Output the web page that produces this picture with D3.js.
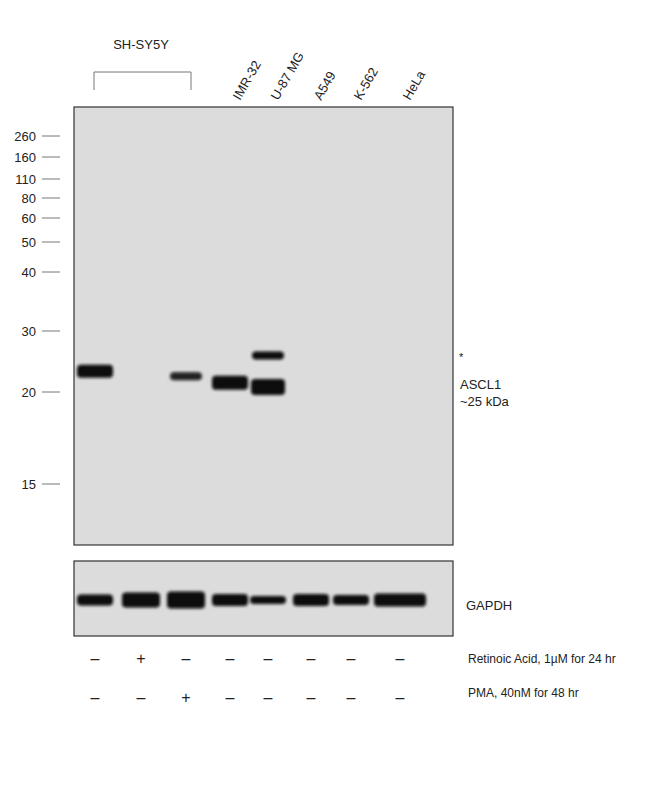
<!DOCTYPE html>
<html><head><meta charset="utf-8">
<script src="https://cdn.jsdelivr.net/npm/d3@7"></script>
<style>body{margin:0;background:#fff}svg text{font-family:Arial,"Liberation Sans",sans-serif;fill:#222}</style>
</head><body><svg id="c" width="650" height="797"></svg>
<script>
const lanes = ["SH-SY5Y a","SH-SY5Y b","SH-SY5Y c","IMR-32","U-87 MG","A549","K-562","HeLa"];
const laneLabels = ["","","","IMR-32","U-87 MG","A549","K-562","HeLa"];
const markers = [260,160,110,80,60,50,40,30,20,15];
const markerY = [136,157,179,198,218,242,272,331,392,484];
const asclBands = [
  {lane:0,kda:23.4,w:36,h:13,op:1},
  {lane:2,kda:22.6,w:32,h:8,op:0.9},
  {lane:3,kda:21.5,w:36,h:14,op:1},
  {lane:4,kda:26.0,w:32,h:8,op:1},
  {lane:4,kda:20.8,w:34,h:16,op:1}
];
const gapdh = [11,15,17,12,8,12,10,13]; // band thickness
const retinoic = ["-","+","-","-","-","-","-","-"];
const pma = ["-","-","+","-","-","-","-","-"];

const svg = d3.select("#c");
const laneX = d3.scaleOrdinal().domain(lanes).range([95,141,186,230,268,311,351,400]);
const y = d3.scaleLinear().domain(markers).range(markerY);

const defs = svg.append("defs");
defs.append("filter").attr("id","bl").append("feGaussianBlur").attr("stdDeviation",1.6);

svg.append("rect").attr("x",74).attr("y",107).attr("width",379).attr("height",438)
  .attr("fill","#dcdcdc").attr("stroke","#333").attr("stroke-width",1.2);
svg.append("rect").attr("x",74).attr("y",561).attr("width",379).attr("height",75)
  .attr("fill","#dcdcdc").attr("stroke","#333").attr("stroke-width",1.2);

markers.forEach(m=>{
  svg.append("line").attr("x1",42).attr("x2",60).attr("y1",y(m)).attr("y2",y(m)).attr("stroke","#777");
  svg.append("text").attr("x",36).attr("y",y(m)+5).attr("text-anchor","end").attr("font-size",13).text(m);
});

const bg = svg.append("g").attr("filter","url(#bl)");
asclBands.forEach(b=>{
  const cx = laneX(lanes[b.lane]), cy = y(b.kda);
  bg.append("rect").attr("x",cx-b.w/2).attr("y",cy-b.h/2).attr("width",b.w).attr("height",b.h)
    .attr("rx",4).attr("fill","#0a0a0a").attr("opacity",b.op);
});
lanes.forEach((l,i)=>{
  const w = i==7?52:(i==1||i==2?38:36);
  bg.append("rect").attr("x",laneX(l)-w/2).attr("y",600-gapdh[i]/2).attr("width",w).attr("height",gapdh[i])
    .attr("rx",4).attr("fill","#0a0a0a");
});

svg.append("text").attr("x",141).attr("y",49).attr("text-anchor","middle").attr("font-size",13).text("SH-SY5Y");
svg.append("path").attr("d","M94,90V72H191V90").attr("fill","none").attr("stroke","#777");
laneLabels.forEach((t,i)=>{
  if(!t) return;
  const cx = laneX(lanes[i]);
  svg.append("text").attr("transform",`translate(${cx+10},101) rotate(-60)`).attr("font-size",13).text(t);
});

svg.append("text").attr("x",459).attr("y",361).attr("font-size",11).text("*");
svg.append("text").attr("x",460).attr("y",389).attr("font-size",13).text("ASCL1");
svg.append("text").attr("x",460).attr("y",406).attr("font-size",13).text("~25 kDa");
svg.append("text").attr("x",466).attr("y",610).attr("font-size",13).text("GAPDH");

lanes.forEach((l,i)=>{
  svg.append("text").attr("x",laneX(l)).attr("y",664).attr("text-anchor","middle").attr("font-size",16).text(retinoic[i]=="-"?"–":"+");
  svg.append("text").attr("x",laneX(l)).attr("y",703).attr("text-anchor","middle").attr("font-size",16).text(pma[i]=="-"?"–":"+");
});
svg.append("text").attr("x",468).attr("y",663).attr("font-size",12).text("Retinoic Acid, 1µM for 24 hr");
svg.append("text").attr("x",468).attr("y",697).attr("font-size",12).text("PMA, 40nM for 48 hr");
</script></body></html>
